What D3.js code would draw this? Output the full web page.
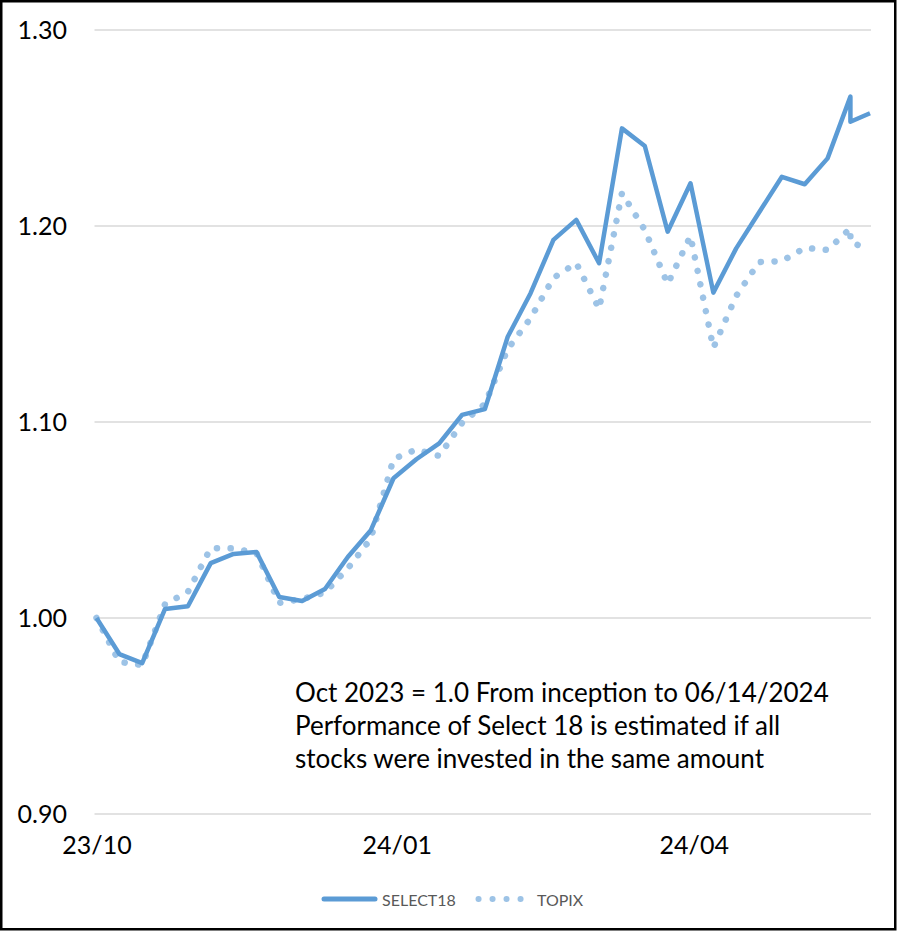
<!DOCTYPE html>
<html>
<head>
<meta charset="utf-8">
<script src="https://cdn.jsdelivr.net/npm/d3@7"></script>
<style>
    body { margin: 0; background: #fff; }
    text { font-family: Lato, "Open Sans", sans-serif; }
</style>
</head>
<body>
<script>
// weekly points, the data has one date twice (sharp jump near the end)
var dates = ["2023-10-02","2023-10-09","2023-10-16","2023-10-23","2023-10-30",
    "2023-11-06","2023-11-13","2023-11-20","2023-11-27","2023-12-04",
    "2023-12-11","2023-12-18","2023-12-25","2024-01-01","2024-01-08",
    "2024-01-15","2024-01-22","2024-01-29","2024-02-05","2024-02-12",
    "2024-02-19","2024-02-26","2024-03-04","2024-03-11","2024-03-18",
    "2024-03-25","2024-04-01","2024-04-08","2024-04-15","2024-04-22",
    "2024-04-29","2024-05-06","2024-05-13","2024-05-20","2024-05-20",
    "2024-05-26"];

var select18 = [1.000, 0.9816, 0.977, 1.0046, 1.006, 1.028, 1.0327, 1.0337,
    1.0107, 1.0087, 1.0148, 1.0311, 1.0446, 1.0713, 1.081, 1.0891, 1.1036,
    1.1066, 1.1435, 1.1657, 1.1929, 1.2031, 1.181, 1.2498, 1.2408, 1.1971,
    1.2218, 1.166, 1.1886, 1.2069, 1.2251, 1.2213, 1.2345, 1.266, 1.2532,
    1.2575];

var topix = [1.000, 0.9776, 0.976, 1.0071, 1.0133, 1.0357, 1.0355, 1.0332,
    1.0077, 1.0097, 1.013, 1.0253, 1.0403, 1.0811, 1.086, 1.0827, 1.0995,
    1.1092, 1.1372, 1.153, 1.1735, 1.1811, 1.1577, 1.2168, 1.198, 1.1704,
    1.1949, 1.1378, 1.1643, 1.1816, 1.1821, 1.1888, 1.1878, 1.1988, 1.1917,
    1.188];

var yTicks = [0.90, 1.00, 1.10, 1.20, 1.30];
var xTicks = ["2023-10-02", "2024-01-02", "2024-04-02"];

var seriesNames = ["SELECT18", "TOPIX"];

var note = [
    "Oct 2023 = 1.0 From inception to 06/14/2024",
    "Performance of Select 18 is estimated if all",
    "stocks were invested in the same amount"
];

window.onload = function(){
    var w = 897, h = 931;
    var parse = d3.timeParse("%Y-%m-%d");

    var svg = d3.select("body")
        .append("svg")
        .attr("width", w)
        .attr("height", h);

    svg.append("rect")
        .attr("x", 1.25)
        .attr("y", 1.25)
        .attr("width", w - 3)
        .attr("height", h - 3)
        .style("fill", "#fff")
        .style("stroke", "#000")
        .style("stroke-width", 2.5);

    var x = d3.scaleTime()
        .domain([parse(dates[0]), parse(dates[dates.length - 1])])
        .range([96.5, 870]);

    var y = d3.scaleLinear()
        .domain([0.9, 1.3])
        .range([814, 30]);

    // gridlines
    svg.selectAll(".grid")
        .data(yTicks)
        .enter()
        .append("line")
        .attr("class", "grid")
        .attr("x1", 94.5)
        .attr("x2", 871)
        .attr("y1", function(d){ return y(d); })
        .attr("y2", function(d){ return y(d); })
        .style("stroke", "#d9d9d9")
        .style("stroke-width", 1.5);

    var yAxis = d3.axisLeft(y)
        .tickValues(yTicks)
        .tickFormat(d3.format(".2f"))
        .tickSize(0)
        .tickPadding(0);

    var yg = svg.append("g")
        .attr("transform", "translate(67,0)")
        .call(yAxis);
    yg.select(".domain").remove();
    yg.selectAll("text")
        .style("font-family", "Lato, sans-serif")
        .style("font-size", "25px")
        .style("fill", "#000");

    var xAxis = d3.axisBottom(x)
        .tickValues(xTicks.map(parse))
        .tickFormat(d3.timeFormat("%y/%m"))
        .tickSize(0)
        .tickPadding(0);

    var xg = svg.append("g")
        .attr("transform", "translate(0,836)")
        .call(xAxis);
    xg.select(".domain").remove();
    xg.selectAll("text")
        .style("font-family", "Lato, sans-serif")
        .style("font-size", "25px")
        .style("fill", "#000");

    var line = d3.line()
        .x(function(d){ return x(d.date); })
        .y(function(d){ return y(d.v); });

    var selData = dates.map(function(d, i){ return {date: parse(d), v: select18[i]}; });
    var topData = dates.map(function(d, i){ return {date: parse(d), v: topix[i]}; });

    svg.append("path")
        .datum(topData)
        .attr("d", line)
        .style("fill", "none")
        .style("stroke", "#9dc3e6")
        .style("stroke-width", 6.5)
        .style("stroke-linecap", "round")
        .style("stroke-dasharray", "0.1 13.6");

    svg.append("path")
        .datum(selData)
        .attr("d", line)
        .style("fill", "none")
        .style("stroke", "#5b9bd5")
        .style("stroke-width", 4.5)
        .style("stroke-linejoin", "round");

    // note text
    svg.append("text")
        .attr("x", 295)
        .attr("y", 702)
        .style("font-size", "26px")
        .style("fill", "#000")
        .selectAll("tspan")
        .data(note)
        .enter()
        .append("tspan")
        .attr("x", 295)
        .attr("dy", function(d, i){ return i == 0 ? 0 : 33; })
        .text(function(d){ return d; });

    // legend
    var legend = svg.append("g").attr("class", "legend");

    legend.append("line")
        .attr("x1", 324).attr("x2", 375)
        .attr("y1", 899).attr("y2", 899)
        .style("stroke", "#5b9bd5")
        .style("stroke-width", 5)
        .style("stroke-linecap", "round");

    legend.append("line")
        .attr("x1", 478.5).attr("x2", 521)
        .attr("y1", 899).attr("y2", 899)
        .style("stroke", "#9dc3e6")
        .style("stroke-width", 6)
        .style("stroke-linecap", "round")
        .style("stroke-dasharray", "0.1 13.9");

    legend.selectAll(".legtext")
        .data(seriesNames)
        .enter()
        .append("text")
        .attr("class", "legtext")
        .attr("x", function(d, i){ return i == 0 ? 382 : 537; })
        .attr("y", 906)
        .style("font-size", "16px")
        .style("fill", "#595959")
        .text(function(d){ return d; });
}
</script>
</body>
</html>
